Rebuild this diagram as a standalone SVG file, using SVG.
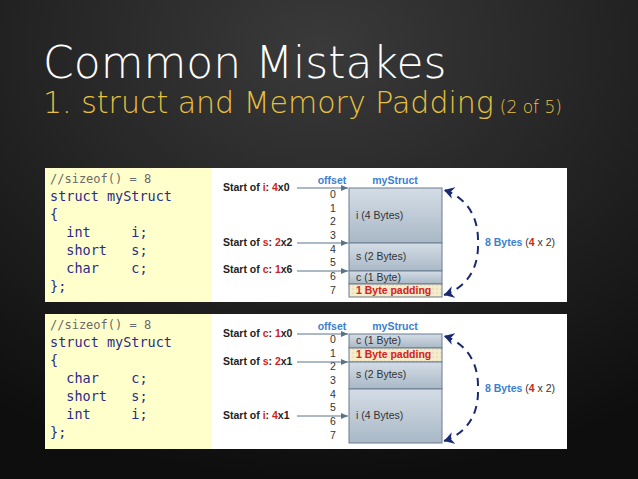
<svg xmlns="http://www.w3.org/2000/svg" width="638" height="479" viewBox="0 0 638 479">
<defs>
<radialGradient id="bg" cx="0.5" cy="0.1" r="0.9"><stop offset="0" stop-color="#3a3a3a"/><stop offset="1" stop-color="#0e0e0e"/></radialGradient>
<linearGradient id="cell" x1="0" y1="0" x2="0" y2="1"><stop offset="0" stop-color="#d4dde6"/><stop offset="1" stop-color="#a9b8c6"/></linearGradient>
<pattern id="dots" width="4" height="4" patternUnits="userSpaceOnUse"><rect width="4" height="4" fill="#f5eccc"/><circle cx="1" cy="1" r="0.6" fill="#c8b98a"/></pattern>
<marker id="ah" markerWidth="8" markerHeight="8" refX="7" refY="4" orient="auto" markerUnits="userSpaceOnUse"><path d="M0,1 L7,4 L0,7 z" fill="#5a7288"/></marker>
<marker id="dh" markerWidth="12" markerHeight="12" refX="10" refY="6" orient="auto" markerUnits="userSpaceOnUse"><path d="M0,0 L10,6 L0,12 L3,6 z" fill="#1a2a6e"/></marker>
</defs>
<style>
.code{font-family:"DejaVu Sans Mono",monospace;font-size:13.5px;fill:#2a2a8a;white-space:pre}
.cm{fill:#6a6a6a;font-size:12px}
.st{font-family:"Liberation Sans",Arial,sans-serif;font-weight:bold;font-size:10.5px;fill:#222}
.r{fill:#d42020}
.num{font-family:"Liberation Sans",Arial,sans-serif;font-size:10.5px;fill:#333;text-anchor:middle}
.hd{font-family:"Liberation Sans",Arial,sans-serif;font-weight:bold;font-size:10.5px;fill:#3a7fd0;text-anchor:middle}
.cl{font-family:"Liberation Sans",Arial,sans-serif;font-size:10.5px;fill:#333}
.pad{font-family:"Liberation Sans",Arial,sans-serif;font-weight:bold;font-size:10.5px;fill:#d42020}
.box{stroke:#6a7d90;stroke-width:1;fill:url(#cell)}
.ln{stroke:#5a7288;stroke-width:1;marker-end:url(#ah)}
.dash{fill:none;stroke:#1a2a6e;stroke-width:2;stroke-dasharray:8,6;marker-end:url(#dh)}
.by{font-family:"Liberation Sans",Arial,sans-serif;font-size:10.5px;fill:#333}
</style>
<rect width="638" height="479" fill="url(#bg)"/>
<text x="43" y="78" font-family="DejaVu Sans" font-weight="200" font-size="44" fill="#fff">Common Mistakes</text>
<text x="43" y="113" font-family="DejaVu Sans" font-weight="200" font-size="30" fill="#e8c040">1. struct and Memory Padding<tspan font-size="17" dx="6">(2 of 5)</tspan></text>

<g id="panel1">
<rect x="45" y="168" width="522" height="134" fill="#fff"/>
<rect x="45" y="168" width="167" height="134" fill="#ffffcc"/>
<text class="code" xml:space="preserve"><tspan class="cm" x="50" y="183">//sizeof() = 8</tspan><tspan x="50" y="201">struct myStruct</tspan><tspan x="50" y="219">{</tspan><tspan x="50" y="237">  int     i;</tspan><tspan x="50" y="255">  short   s;</tspan><tspan x="50" y="273">  char    c;</tspan><tspan x="50" y="291">};</tspan></text>
<text class="hd" x="332" y="184">offset</text><text class="hd" x="395" y="184">myStruct</text>
<rect class="box" x="349" y="188" width="93" height="55"/>
<rect class="box" x="349" y="243" width="93" height="28"/>
<rect class="box" x="349" y="271" width="93" height="13"/>
<rect x="349" y="284" width="93" height="13" fill="url(#dots)" stroke="#6a7d90"/>
<text class="cl" x="356" y="219">i (4 Bytes)</text>
<text class="cl" x="356" y="260">s (2 Bytes)</text>
<text class="cl" x="356" y="281">c (1 Byte)</text>
<text class="pad" x="356" y="294">1 Byte padding</text>
<g class="num"><text x="333" y="198">0</text><text x="333" y="212">1</text><text x="333" y="225">2</text><text x="333" y="239">3</text><text x="333" y="253">4</text><text x="333" y="266">5</text><text x="333" y="280">6</text><text x="333" y="294">7</text></g>
<text class="st" x="223" y="191">Start of <tspan class="r">i</tspan>: <tspan class="r">4</tspan>x0</text>
<text class="st" x="223" y="246">Start of <tspan class="r">s</tspan>: <tspan class="r">2</tspan>x2</text>
<text class="st" x="223" y="273">Start of <tspan class="r">c</tspan>: <tspan class="r">1</tspan>x6</text>
<text class="by" x="485" y="246"><tspan fill="#3a7fd0" font-weight="bold">8 Bytes</tspan> (<tspan class="r" font-weight="bold">4</tspan> x 2)</text>
</g>

<g id="panel2">
<rect x="45" y="314" width="522" height="135" fill="#fff"/>
<rect x="45" y="314" width="167" height="135" fill="#ffffcc"/>
<text class="code" xml:space="preserve"><tspan class="cm" x="50" y="329">//sizeof() = 8</tspan><tspan x="50" y="347">struct myStruct</tspan><tspan x="50" y="365">{</tspan><tspan x="50" y="383">  char    c;</tspan><tspan x="50" y="401">  short   s;</tspan><tspan x="50" y="419">  int     i;</tspan><tspan x="50" y="437">};</tspan></text>
<text class="hd" x="332" y="330">offset</text><text class="hd" x="395" y="330">myStruct</text>
<rect class="box" x="349" y="334" width="93" height="14"/>
<rect x="349" y="348" width="93" height="14" fill="url(#dots)" stroke="#6a7d90"/>
<rect class="box" x="349" y="362" width="93" height="27"/>
<rect class="box" x="349" y="389" width="93" height="54"/>
<text class="cl" x="356" y="344">c (1 Byte)</text>
<text class="pad" x="356" y="358">1 Byte padding</text>
<text class="cl" x="356" y="378">s (2 Bytes)</text>
<text class="cl" x="356" y="419">i (4 Bytes)</text>
<g class="num"><text x="333" y="343">0</text><text x="333" y="357">1</text><text x="333" y="370">2</text><text x="333" y="384">3</text><text x="333" y="398">4</text><text x="333" y="411">5</text><text x="333" y="425">6</text><text x="333" y="439">7</text></g>
<text class="st" x="223" y="337">Start of <tspan class="r">c</tspan>: <tspan class="r">1</tspan>x0</text>
<text class="st" x="223" y="365">Start of <tspan class="r">s</tspan>: <tspan class="r">2</tspan>x1</text>
<text class="st" x="223" y="419">Start of <tspan class="r">i</tspan>: <tspan class="r">4</tspan>x1</text>
<text class="by" x="485" y="392"><tspan fill="#3a7fd0" font-weight="bold">8 Bytes</tspan> (<tspan class="r" font-weight="bold">4</tspan> x 2)</text>
</g>

<g id="connectors">
<line class="ln" x1="297" y1="188" x2="348" y2="188"/>
<line class="ln" x1="297" y1="243" x2="348" y2="243"/>
<line class="ln" x1="297" y1="271" x2="348" y2="271"/>
<path class="dash" d="M478,240 C478,210 460,195 444,190"/>
<path class="dash" d="M478,246 C478,275 460,290 444,295"/>
<line class="ln" x1="297" y1="334" x2="348" y2="334"/>
<line class="ln" x1="297" y1="362" x2="348" y2="362"/>
<line class="ln" x1="297" y1="416" x2="348" y2="416"/>
<path class="dash" d="M478,386 C478,356 460,341 444,336"/>
<path class="dash" d="M478,392 C478,421 460,436 444,441"/>
</g>
</svg>
